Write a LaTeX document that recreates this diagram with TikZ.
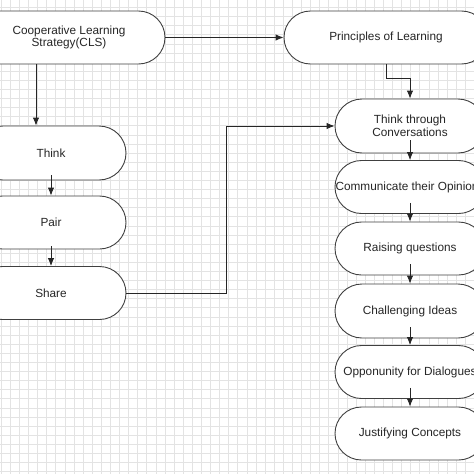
\documentclass[tikz,border=0pt]{standalone}
\usepackage{fontspec}
\setmainfont{Liberation Sans}
\usetikzlibrary{shapes.misc,arrows.meta}
\begin{document}
\begin{tikzpicture}[x=1pt,y=-1pt,
  gridline/.style={draw=black!11,line width=0.6pt},
  flowbox/.style={rounded rectangle,draw=black!75,line width=0.9pt,fill=white,
    inner sep=0pt,minimum height=53pt,align=center,text=black!85,
    font=\fontsize{11.8}{12.5}\selectfont},
  conn/.style={draw=black!85,line width=0.9pt},
  arr/.style={conn,-{Latex[length=8pt,width=6.5pt]}}]
\useasboundingbox (0,0) rectangle (474,474);
\clip (0,0) rectangle (474,474);
\fill[white] (0,0) rectangle (474,474);
\foreach \i in {0,...,52} {
  \draw[gridline] (1.1+9.1*\i,0) -- (1.1+9.1*\i,474);
  \draw[gridline] (0,7.4+9.1*\i-9.1) -- (474,7.4+9.1*\i-9.1);
}
% left column
\node[flowbox,minimum width=192pt] (cls) at (69,37.5) {Cooperative Learning\\Strategy(CLS)};
\node[flowbox,minimum width=150pt,minimum height=54pt] (think) at (51,153) {Think};
\node[flowbox,minimum width=150pt] (pair) at (51,222.5) {Pair};
\node[flowbox,minimum width=150pt] (share) at (51,293) {Share};
% right column
\node[flowbox,minimum width=204pt] (pol) at (386,37.5) {Principles of Learning};
\node[flowbox,minimum width=150pt,minimum height=54pt] (ttc) at (410,126) {Think through\\Conversations};
\node[flowbox,minimum width=150pt] (cto) at (410,187) {Communicate their Opinions};
\node[flowbox,minimum width=150pt] (rq) at (410,248.5) {Raising questions};
\node[flowbox,minimum width=150pt,minimum height=54pt] (ci) at (410,311) {Challenging Ideas};
\node[flowbox,minimum width=150pt] (ofd) at (410,372) {Opponunity for Dialogues};
\node[flowbox,minimum width=150pt] (jc) at (410,433.5) {Justifying Concepts};
% connectors
\draw[arr] ([xshift=-33pt]cls.south) -- ([xshift=-15pt]think.north);
\draw[arr] ([yshift=5pt]think.south) -- (pair.north);
\draw[arr] ([yshift=3pt]pair.south) -- (share.north);
\draw[arr] (cls.east) -- (pol.west);
\draw[arr] (pol.south) -- ++(0,14) -| (ttc.north);
\coordinate (bend) at (226,126);
\draw[arr] (share.east) -| (bend) -- (ttc.west);
\draw[arr] ([yshift=13pt]ttc.south) -- (cto.north);
\draw[arr] ([yshift=11pt]cto.south) -- (rq.north);
\draw[arr] ([yshift=11pt]rq.south) -- (ci.north);
\draw[arr] ([yshift=11pt]ci.south) -- (ofd.north);
\draw[arr] ([yshift=11pt]ofd.south) -- (jc.north);
\end{tikzpicture}
\end{document}
